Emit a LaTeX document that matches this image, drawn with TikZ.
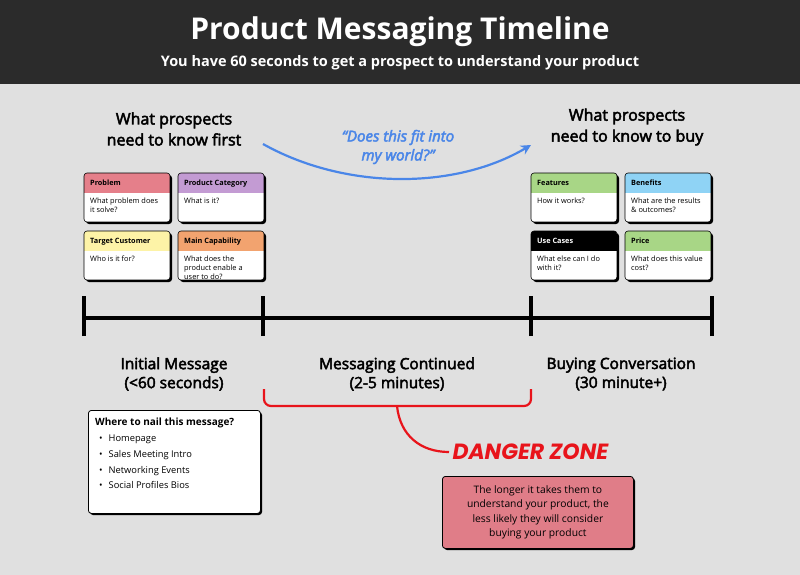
\documentclass[tikz,border=0pt]{standalone}
\usepackage{fontspec}
\setmainfont{Open Sans}
\newfontfamily\hfont{Poppins}
\newfontfamily\medfont{Open Sans}[FakeBold=3]
\usetikzlibrary{arrows.meta}
\definecolor{bg}{HTML}{E0E0E0}
\definecolor{bar}{HTML}{2B2B2B}
\definecolor{cred}{HTML}{E57F8A}
\definecolor{cpur}{HTML}{C39BD3}
\definecolor{cyel}{HTML}{FDF3A7}
\definecolor{cora}{HTML}{F2A36F}
\definecolor{cgrn}{HTML}{A8D686}
\definecolor{cblu}{HTML}{8FD3F5}
\definecolor{arrowblue}{HTML}{4A86E8}
\definecolor{dred}{HTML}{E8141B}
\definecolor{pinkbox}{HTML}{E07D88}
\tikzset{
  shadowbox/.style={draw=black, line width=0.8pt, rounded corners=3pt},
  cardtitle/.style={anchor=north west, font=\bfseries\fontsize{7.3}{8}\selectfont, inner sep=0pt},
  cardbody/.style={anchor=north west, font=\fontsize{7.4}{9}\selectfont, align=left, inner sep=0pt},
  head/.style={font=\medfont\fontsize{16}{21}\selectfont, align=center},
  tlabel/.style={font=\medfont\fontsize{15.5}{19}\selectfont, align=center},
  tick/.style={line width=3.5pt},
}
\newcommand{\card}[7]{% x y name color title body titlecolor
  \fill[black, rounded corners=3pt] (#1+2,#2+2) rectangle (#1+88,#2+51);
  \begin{scope}
  \clip[rounded corners=3pt] (#1,#2) rectangle (#1+86,#2+49);
  \fill[white] (#1,#2) rectangle (#1+86,#2+49);
  \fill[#4] (#1,#2) rectangle (#1+86,#2+20);
  \end{scope}
  \draw[black, line width=0.6pt, rounded corners=3pt] (#1,#2) rectangle (#1+86,#2+49);
  \node[cardtitle, text=#7] (#3t) at (#1+6,#2+7) {#5};
  \node[cardbody] (#3b) at (#1+6,#2+25) {#6};
}
\begin{document}
\begin{tikzpicture}[x=1pt,y=-1pt]
\useasboundingbox (0,0) rectangle (800,575);
\fill[bg] (0,0) rectangle (800,575);
\fill[bar] (0,0) rectangle (800,84);
\node[text=white, font=\bfseries\fontsize{30}{34}\selectfont] (title) at (400,32) {Product Messaging Timeline};
\node[text=white, font=\bfseries\fontsize{14.5}{17}\selectfont] (sub) at (400,63) {You have 60 seconds to get a prospect to understand your product};

\node[head] (lh) at (174,129) {What prospects\\need to know first};
\node[head] (rh) at (627,127) {What prospects\\need to know to buy};
\coordinate (as) at (263,144);
\coordinate (ae) at (531,145);
\draw[arrowblue, line width=2.2pt, -{Stealth[length=10pt,width=10pt]}] (as) .. controls (345,190) and (455,190) .. (ae);
\node[text=arrowblue, font=\medfont\itshape\fontsize{15}{19}\selectfont, align=center] (q) at (398,147) {“Does this fit into\\my world?”};

\card{84}{173}{c1}{cred}{Problem}{What problem does\\it solve?}{black}
\card{178}{173}{c2}{cpur}{Product Category}{What is it?}{black}
\card{84}{231}{c3}{cyel}{Target Customer}{Who is it for?}{black}
\card{178}{231}{c4}{cora}{Main Capability}{What does the\\product enable a\\user to do?}{black}
\card{531}{173}{c5}{cgrn}{Features}{How it works?}{black}
\card{625}{173}{c6}{cblu}{Benefits}{What are the results\\\& outcomes?}{black}
\card{531}{231}{c7}{black}{Use Cases}{What else can I do\\with it?}{white}
\card{625}{231}{c8}{cgrn}{Price}{What does this value\\cost?}{black}

\coordinate (t0) at (84,318);
\coordinate (t1) at (263,318);
\coordinate (t2) at (531,318);
\coordinate (t3) at (712,318);
\draw[tick] (t0) -- (t3);
\foreach \p in {t0,t1,t2,t3} \draw[tick] ([yshift=-18pt]\p) -- ([yshift=22pt]\p);

\node[tlabel] (l1) at (174,374) {Initial Message\\(<60 seconds)};
\node[tlabel] (l2) at (397,374) {Messaging Continued\\(2-5 minutes)};
\node[tlabel] (l3) at (621,374) {Buying Conversation\\(30 minute+)};

\coordinate (b0) at (264,389);
\coordinate (b1) at (531,389);
\coordinate (bm) at (397,406);
\draw[dred, line width=2.2pt, rounded corners=7pt] (b0) |- (bm) -| (b1);
\node[text=dred, font=\hfont\bfseries\itshape\fontsize{22}{24}\selectfont, anchor=west] (dz) at (449,452) {DANGER ZONE};
\draw[dred, line width=2.2pt] (bm) .. controls (400,435) and (420,452) .. (dz.west);

\fill[black, rounded corners=3pt] (90,412) rectangle (262,515);
\node[shadowbox, fill=white, minimum width=172pt, minimum height=103pt, anchor=north west] (where) at (88,410) {};
\node[anchor=north west, font=\bfseries\fontsize{10}{12}\selectfont, inner sep=0pt] (wt) at (95,418) {Where to nail this message?};
\node[anchor=north west, font=\fontsize{9.3}{15.7}\selectfont, align=left, inner sep=0pt] (wl) at (99,435) {•\hspace{6pt}Homepage\\•\hspace{6pt}Sales Meeting Intro\\•\hspace{6pt}Networking Events\\•\hspace{6pt}Social Profiles Bios};

\fill[black, rounded corners=3pt] (444,478) rectangle (635,550);
\node[shadowbox, fill=pinkbox, minimum width=191pt, minimum height=72pt, anchor=north west] (pb) at (442,476) {};
\node[font=\fontsize{10.3}{14.6}\selectfont, align=center] (pbt) at (pb.center) {The longer it takes them to\\understand your product, the\\less likely they will consider\\buying your product};
\end{tikzpicture}
\end{document}
